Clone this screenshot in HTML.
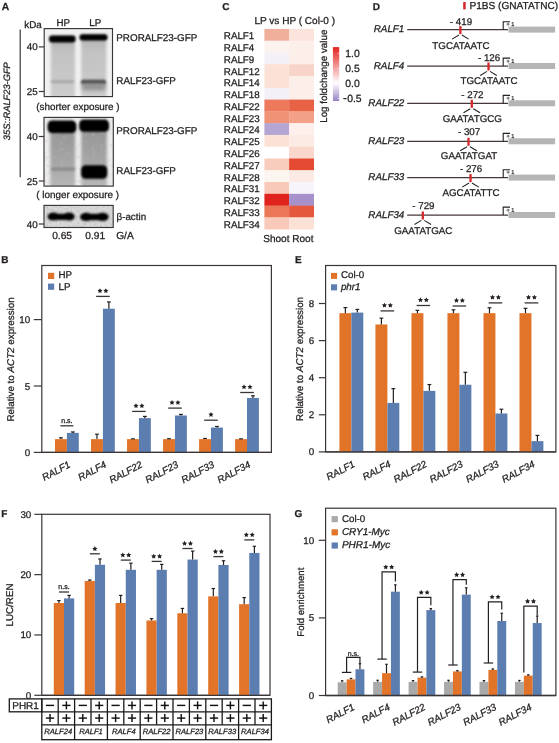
<!DOCTYPE html>
<html><head><meta charset="utf-8"><title>Figure</title>
<style>
html,body{margin:0;padding:0;background:#ffffff;width:559px;height:743px;overflow:hidden}
svg{display:block;will-change:transform}
text{font-family:"Liberation Sans",sans-serif;stroke:#231f20;stroke-width:0.28px;text-rendering:geometricPrecision}
</style></head><body>
<svg width="559" height="743" viewBox="0 0 559 743">
<rect x="0" y="0" width="559" height="743" fill="#ffffff"/>
<text transform="translate(1.80,10.20) scale(1,1.0)" font-size="10.3" font-weight="bold" fill="#231f20">A</text>
<text transform="translate(24.30,28.00) scale(1,1.0)" font-size="9.8" fill="#231f20">kDa</text>
<text transform="translate(56.40,26.30) scale(1,1.0)" font-size="9.8" fill="#231f20">HP</text>
<text transform="translate(89.30,26.30) scale(1,1.0)" font-size="9.8" fill="#231f20">LP</text>
<line x1="20.20" y1="29.60" x2="20.20" y2="177.30" stroke="#3b3535" stroke-width="1.2"/>
<text transform="translate(9.9,140.2) rotate(-90) scale(1,1.0)" font-size="9.3" font-style="italic" fill="#231f20">35S::RALF23-GFP</text>
<defs><filter id="b1" x="-50%" y="-50%" width="200%" height="200%"><feGaussianBlur stdDeviation="2.2"/></filter><filter id="b2" x="-50%" y="-50%" width="200%" height="200%"><feGaussianBlur stdDeviation="1.1"/></filter><filter id="b4" x="-50%" y="-50%" width="200%" height="200%"><feGaussianBlur stdDeviation="0.8"/></filter><filter id="b3" x="-50%" y="-50%" width="200%" height="200%"><feGaussianBlur stdDeviation="3"/></filter><filter id="noise" x="0" y="0" width="100%" height="100%"><feTurbulence type="fractalNoise" baseFrequency="0.55" numOctaves="2" seed="3"/><feColorMatrix type="matrix" values="0 0 0 0 0.3  0 0 0 0 0.3  0 0 0 0 0.3  2.2 0 0 0 -0.95"/></filter><clipPath id="c1"><rect x="44.2" y="28.6" width="68.3" height="68"/></clipPath><clipPath id="c2"><rect x="44" y="117.4" width="69.3" height="68.7"/></clipPath><clipPath id="c3"><rect x="44" y="205.4" width="69.2" height="22.1"/></clipPath><linearGradient id="lane1" x1="0" y1="0" x2="0" y2="1"><stop offset="0" stop-color="#b0b0b0"/><stop offset="0.25" stop-color="#c2c2c2"/><stop offset="0.7" stop-color="#c8c8c8"/><stop offset="1" stop-color="#cccccc"/></linearGradient><linearGradient id="lane2" x1="0" y1="0" x2="0" y2="1"><stop offset="0" stop-color="#858585"/><stop offset="0.2" stop-color="#999999"/><stop offset="0.6" stop-color="#a6a6a6"/><stop offset="1" stop-color="#b8b8b8"/></linearGradient><filter id="b5" x="-50%" y="-50%" width="200%" height="200%"><feGaussianBlur stdDeviation="1.6"/></filter><filter id="noise2" x="0" y="0" width="100%" height="100%"><feTurbulence type="fractalNoise" baseFrequency="0.25" numOctaves="2" seed="7"/><feColorMatrix type="matrix" values="0 0 0 0 0.5  0 0 0 0 0.5  0 0 0 0 0.5  0 0 0 -2.2 1.05"/></filter></defs>
<g clip-path="url(#c1)">
<rect x="44.20" y="28.60" width="68.30" height="68.00" fill="#f1f1f1"/>
<rect x="50.80" y="36.00" width="24.20" height="64.00" fill="url(#lane1)" filter="url(#b5)"/>
<rect x="81.20" y="35.00" width="25.20" height="65.00" fill="url(#lane1)" filter="url(#b5)"/>
<rect x="49" y="35.6" width="26.5" height="6.8" rx="3.2" fill="#000" filter="url(#b2)"/>
<rect x="79.5" y="34.2" width="28" height="6.4" rx="3" fill="#000" filter="url(#b2)"/>
<rect x="81" y="79.8" width="25" height="4.6" rx="2" fill="#4a4a4a" filter="url(#b2)"/>
<rect x="82" y="83.5" width="23.5" height="6.5" rx="2" fill="#8c8c8c" filter="url(#b1)"/>
<rect x="51" y="80.2" width="23" height="2.8" rx="1.3" fill="#a6a6a6" filter="url(#b2)"/>
</g>
<rect x="44.20" y="28.60" width="68.30" height="68.00" fill="none" stroke="#3b3535" stroke-width="1.15"/>
<g clip-path="url(#c2)">
<rect x="44.00" y="117.40" width="69.30" height="68.70" fill="#ececec"/>
<rect x="50.30" y="123.00" width="24.80" height="66.00" fill="url(#lane2)" filter="url(#b5)"/>
<rect x="81.30" y="122.00" width="25.60" height="67.00" fill="url(#lane2)" filter="url(#b5)"/>
<rect x="44.00" y="117.40" width="69.30" height="68.70" fill="#000" filter="url(#noise2)" opacity="0.5"/>
<rect x="47.6" y="120.6" width="28.6" height="12.4" rx="4.5" fill="#000" filter="url(#b2)"/>
<rect x="79.2" y="119.6" width="29.8" height="12.2" rx="4.5" fill="#000" filter="url(#b2)"/>
<rect x="81.2" y="165.2" width="26" height="13.6" rx="4.5" fill="#000" filter="url(#b2)"/>
<rect x="51" y="167.5" width="24" height="3.2" rx="1.5" fill="#8a8a8a" filter="url(#b2)"/>
</g>
<rect x="44.00" y="117.40" width="69.30" height="68.70" fill="none" stroke="#3b3535" stroke-width="1.15"/>
<g clip-path="url(#c3)">
<rect x="44.00" y="205.40" width="69.20" height="22.10" fill="#dadada"/>
<rect x="44.00" y="205.40" width="69.20" height="22.10" fill="#000" filter="url(#noise)" opacity="0.38"/>
<g filter="url(#b4)">
<rect x="48.2" y="213.7" width="25.8" height="6.2" rx="3" fill="#000"/>
<ellipse cx="53.4" cy="216.5" rx="5.8" ry="4.0" fill="#000"/>
<ellipse cx="68.9" cy="216.5" rx="5.8" ry="4.0" fill="#000"/>
<rect x="80.5" y="213.7" width="27.8" height="6.6" rx="3" fill="#000"/>
<ellipse cx="86.2" cy="216.8" rx="5.9" ry="4.1" fill="#000"/>
<ellipse cx="102.5" cy="216.8" rx="6" ry="4.1" fill="#000"/>
</g>
</g>
<rect x="44.00" y="205.40" width="69.20" height="22.10" fill="none" stroke="#3b3535" stroke-width="1.15"/>
<line x1="38.80" y1="46.90" x2="44.00" y2="46.90" stroke="#3b3535" stroke-width="1.2"/>
<text transform="translate(37.60,50.40) scale(1,1.0)" font-size="9.8" text-anchor="end" fill="#231f20">40</text>
<line x1="38.80" y1="91.50" x2="44.00" y2="91.50" stroke="#3b3535" stroke-width="1.2"/>
<text transform="translate(37.60,95.00) scale(1,1.0)" font-size="9.8" text-anchor="end" fill="#231f20">25</text>
<line x1="38.80" y1="136.50" x2="44.00" y2="136.50" stroke="#3b3535" stroke-width="1.2"/>
<text transform="translate(37.60,140.00) scale(1,1.0)" font-size="9.8" text-anchor="end" fill="#231f20">40</text>
<line x1="38.80" y1="181.00" x2="44.00" y2="181.00" stroke="#3b3535" stroke-width="1.2"/>
<text transform="translate(37.60,184.50) scale(1,1.0)" font-size="9.8" text-anchor="end" fill="#231f20">25</text>
<line x1="38.80" y1="224.00" x2="44.00" y2="224.00" stroke="#3b3535" stroke-width="1.2"/>
<text transform="translate(37.60,227.50) scale(1,1.0)" font-size="9.8" text-anchor="end" fill="#231f20">40</text>
<text transform="translate(116.30,40.70) scale(1,1.0)" font-size="9.85" fill="#231f20">PRORALF23-GFP</text>
<text transform="translate(116.30,84.30) scale(1,1.0)" font-size="9.85" fill="#231f20">RALF23-GFP</text>
<text transform="translate(116.30,133.60) scale(1,1.0)" font-size="9.85" fill="#231f20">PRORALF23-GFP</text>
<text transform="translate(116.30,174.00) scale(1,1.0)" font-size="9.85" fill="#231f20">RALF23-GFP</text>
<text transform="translate(36.20,110.40) scale(1,1.0)" font-size="9.9" fill="#231f20">(shorter exposure )</text>
<text transform="translate(36.20,198.20) scale(1,1.0)" font-size="9.9" fill="#231f20">( longer exposure )</text>
<text transform="translate(116.50,219.90) scale(1,1.0)" font-size="9.8" fill="#231f20">β-actin</text>
<text transform="translate(52.20,239.40) scale(1,1.0)" font-size="10.2" fill="#231f20">0.65</text>
<text transform="translate(85.30,239.40) scale(1,1.0)" font-size="10.2" fill="#231f20">0.91</text>
<text transform="translate(116.20,239.40) scale(1,1.0)" font-size="10.2" fill="#231f20">G/A</text>
<text transform="translate(222.20,10.20) scale(1,1.0)" font-size="10" font-weight="bold" fill="#231f20">C</text>
<text transform="translate(254.40,23.80) scale(1,1.0)" font-size="10.05" fill="#231f20">LP vs HP ( Col-0 )</text>
<rect x="264.40" y="28.90" width="24.70" height="12.08" fill="rgb(240,175,155)"/>
<rect x="289.10" y="28.90" width="24.90" height="12.08" fill="rgb(252,228,220)"/>
<text transform="translate(223.80,39.19) scale(1,1.0)" font-size="9.8" fill="#231f20">RALF1</text>
<rect x="264.40" y="40.68" width="24.70" height="12.08" fill="rgb(253,243,238)"/>
<rect x="289.10" y="40.68" width="24.90" height="12.08" fill="rgb(252,238,232)"/>
<text transform="translate(223.80,50.97) scale(1,1.0)" font-size="9.8" fill="#231f20">RALF4</text>
<rect x="264.40" y="52.46" width="24.70" height="12.08" fill="rgb(243,240,248)"/>
<rect x="289.10" y="52.46" width="24.90" height="12.08" fill="rgb(252,238,232)"/>
<text transform="translate(223.80,62.75) scale(1,1.0)" font-size="9.8" fill="#231f20">RALF9</text>
<rect x="264.40" y="64.24" width="24.70" height="12.08" fill="rgb(252,225,215)"/>
<rect x="289.10" y="64.24" width="24.90" height="12.08" fill="rgb(248,212,200)"/>
<text transform="translate(223.80,74.53) scale(1,1.0)" font-size="9.8" fill="#231f20">RALF12</text>
<rect x="264.40" y="76.02" width="24.70" height="12.08" fill="rgb(252,225,215)"/>
<rect x="289.10" y="76.02" width="24.90" height="12.08" fill="rgb(252,238,232)"/>
<text transform="translate(223.80,86.31) scale(1,1.0)" font-size="9.8" fill="#231f20">RALF14</text>
<rect x="264.40" y="87.80" width="24.70" height="12.08" fill="rgb(243,240,248)"/>
<rect x="289.10" y="87.80" width="24.90" height="12.08" fill="rgb(252,238,232)"/>
<text transform="translate(223.80,98.09) scale(1,1.0)" font-size="9.8" fill="#231f20">RALF18</text>
<rect x="264.40" y="99.58" width="24.70" height="12.08" fill="rgb(237,122,92)"/>
<rect x="289.10" y="99.58" width="24.90" height="12.08" fill="rgb(232,98,70)"/>
<text transform="translate(223.80,109.87) scale(1,1.0)" font-size="9.8" fill="#231f20">RALF22</text>
<rect x="264.40" y="111.36" width="24.70" height="12.08" fill="rgb(240,146,118)"/>
<rect x="289.10" y="111.36" width="24.90" height="12.08" fill="rgb(242,160,136)"/>
<text transform="translate(223.80,121.65) scale(1,1.0)" font-size="9.8" fill="#231f20">RALF23</text>
<rect x="264.40" y="123.14" width="24.70" height="12.08" fill="rgb(180,165,210)"/>
<rect x="289.10" y="123.14" width="24.90" height="12.08" fill="rgb(253,240,236)"/>
<text transform="translate(223.80,133.43) scale(1,1.0)" font-size="9.8" fill="#231f20">RALF24</text>
<rect x="264.40" y="134.92" width="24.70" height="12.08" fill="rgb(252,225,215)"/>
<rect x="289.10" y="134.92" width="24.90" height="12.08" fill="rgb(252,235,228)"/>
<text transform="translate(223.80,145.21) scale(1,1.0)" font-size="9.8" fill="#231f20">RALF25</text>
<rect x="264.40" y="146.70" width="24.70" height="12.08" fill="rgb(255,255,255)"/>
<rect x="289.10" y="146.70" width="24.90" height="12.08" fill="rgb(250,215,205)"/>
<text transform="translate(223.80,156.99) scale(1,1.0)" font-size="9.8" fill="#231f20">RALF26</text>
<rect x="264.40" y="158.48" width="24.70" height="12.08" fill="rgb(248,205,190)"/>
<rect x="289.10" y="158.48" width="24.90" height="12.08" fill="rgb(228,75,50)"/>
<text transform="translate(223.80,168.77) scale(1,1.0)" font-size="9.8" fill="#231f20">RALF27</text>
<rect x="264.40" y="170.26" width="24.70" height="12.08" fill="rgb(253,245,240)"/>
<rect x="289.10" y="170.26" width="24.90" height="12.08" fill="rgb(252,235,228)"/>
<text transform="translate(223.80,180.55) scale(1,1.0)" font-size="9.8" fill="#231f20">RALF28</text>
<rect x="264.40" y="182.04" width="24.70" height="12.08" fill="rgb(248,200,185)"/>
<rect x="289.10" y="182.04" width="24.90" height="12.08" fill="rgb(247,245,251)"/>
<text transform="translate(223.80,192.33) scale(1,1.0)" font-size="9.8" fill="#231f20">RALF31</text>
<rect x="264.40" y="193.82" width="24.70" height="12.08" fill="rgb(225,35,30)"/>
<rect x="289.10" y="193.82" width="24.90" height="12.08" fill="rgb(166,145,202)"/>
<text transform="translate(223.80,204.11) scale(1,1.0)" font-size="9.8" fill="#231f20">RALF32</text>
<rect x="264.40" y="205.60" width="24.70" height="12.08" fill="rgb(236,118,88)"/>
<rect x="289.10" y="205.60" width="24.90" height="12.08" fill="rgb(228,88,62)"/>
<text transform="translate(223.80,215.89) scale(1,1.0)" font-size="9.8" fill="#231f20">RALF33</text>
<rect x="264.40" y="217.38" width="24.70" height="12.08" fill="rgb(248,200,185)"/>
<rect x="289.10" y="217.38" width="24.90" height="12.08" fill="rgb(252,225,215)"/>
<text transform="translate(223.80,227.67) scale(1,1.0)" font-size="9.8" fill="#231f20">RALF34</text>
<text transform="translate(263.20,242.40) scale(1,1.0)" font-size="10.05" fill="#231f20">Shoot Root</text>
<text transform="translate(326.5,122.8) rotate(-90) scale(1,1.0)" font-size="9.8" fill="#231f20">Log foldchange value</text>
<defs><linearGradient id="cb" x1="0" y1="0" x2="0" y2="1"><stop offset="0" stop-color="#e2231f"/><stop offset="0.667" stop-color="#ffffff"/><stop offset="1" stop-color="#9784c4"/></linearGradient></defs>
<rect x="332.90" y="47.10" width="6.30" height="53.90" fill="url(#cb)"/>
<line x1="337.50" y1="53.30" x2="339.20" y2="53.30" stroke="#ffffff" stroke-width="0.6"/>
<text transform="translate(345.30,57.00) scale(1,1.0)" font-size="10.4" fill="#231f20">1.0</text>
<line x1="337.50" y1="68.40" x2="339.20" y2="68.40" stroke="#ffffff" stroke-width="0.6"/>
<text transform="translate(345.30,72.10) scale(1,1.0)" font-size="10.4" fill="#231f20">0.5</text>
<line x1="337.50" y1="83.40" x2="339.20" y2="83.40" stroke="#ffffff" stroke-width="0.6"/>
<text transform="translate(345.30,87.10) scale(1,1.0)" font-size="10.4" fill="#231f20">0.0</text>
<line x1="337.50" y1="98.50" x2="339.20" y2="98.50" stroke="#ffffff" stroke-width="0.6"/>
<text transform="translate(347.20,102.20) scale(1,1.0)" font-size="10.4" fill="#231f20">0.5</text>
<line x1="343.30" y1="98.60" x2="346.50" y2="98.60" stroke="#231f20" stroke-width="1.2"/>
<text transform="translate(372.80,10.20) scale(1,1.0)" font-size="10" font-weight="bold" fill="#231f20">D</text>
<rect x="463.20" y="2.00" width="2.50" height="7.40" fill="#d7262b"/>
<text transform="translate(469.50,9.20) scale(1,1.0)" font-size="10.1" fill="#231f20">P1BS (GNATATNC)</text>
<text transform="translate(404.30,32.40) scale(1,1.0)" font-size="9.8" text-anchor="end" font-style="italic" fill="#231f20">RALF1</text>
<line x1="407.20" y1="29.70" x2="508.00" y2="29.70" stroke="#463838" stroke-width="1.3"/>
<path d="M503.2 29.70 V21.70 H510" fill="none" stroke="#231f20" stroke-width="1.1"/>
<text transform="translate(506.60,26.10) scale(1,1.0)" font-size="5.5" fill="#666">+</text>
<text transform="translate(511.20,26.10) scale(1,1.0)" font-size="5.5" fill="#666">1</text>
<rect x="508.50" y="26.60" width="46.60" height="6.00" fill="#b5b5b5"/>
<rect x="459.25" y="26.10" width="2.30" height="8.00" fill="#d7262b"/>
<path d="M458.90 35.00 L452.10 39.10 M461.90 35.00 L468.70 39.10" fill="none" stroke="#231f20" stroke-width="1.05"/>
<text transform="translate(461.00,24.50) scale(1,1.0)" font-size="9.8" text-anchor="middle" fill="#231f20">- 419</text>
<text transform="translate(460.90,49.10) scale(1,1.0)" font-size="9.8" text-anchor="middle" fill="#231f20">TGCATAATC</text>
<text transform="translate(404.30,68.80) scale(1,1.0)" font-size="9.8" text-anchor="end" font-style="italic" fill="#231f20">RALF4</text>
<line x1="407.20" y1="66.10" x2="508.00" y2="66.10" stroke="#463838" stroke-width="1.3"/>
<path d="M503.2 66.10 V58.10 H510" fill="none" stroke="#231f20" stroke-width="1.1"/>
<text transform="translate(506.60,62.50) scale(1,1.0)" font-size="5.5" fill="#666">+</text>
<text transform="translate(511.20,62.50) scale(1,1.0)" font-size="5.5" fill="#666">1</text>
<rect x="508.50" y="63.00" width="46.60" height="6.00" fill="#b5b5b5"/>
<rect x="487.35" y="62.50" width="2.30" height="8.00" fill="#d7262b"/>
<path d="M487.00 71.40 L480.20 75.50 M490.00 71.40 L496.80 75.50" fill="none" stroke="#231f20" stroke-width="1.05"/>
<text transform="translate(489.10,60.60) scale(1,1.0)" font-size="9.8" text-anchor="middle" fill="#231f20">- 126</text>
<text transform="translate(489.00,83.70) scale(1,1.0)" font-size="9.8" text-anchor="middle" fill="#231f20">TGCATAATC</text>
<text transform="translate(404.30,106.10) scale(1,1.0)" font-size="9.8" text-anchor="end" font-style="italic" fill="#231f20">RALF22</text>
<line x1="407.20" y1="103.40" x2="508.00" y2="103.40" stroke="#463838" stroke-width="1.3"/>
<path d="M503.2 103.40 V95.40 H510" fill="none" stroke="#231f20" stroke-width="1.1"/>
<text transform="translate(506.60,99.80) scale(1,1.0)" font-size="5.5" fill="#666">+</text>
<text transform="translate(511.20,99.80) scale(1,1.0)" font-size="5.5" fill="#666">1</text>
<rect x="508.50" y="100.30" width="46.60" height="6.00" fill="#b5b5b5"/>
<rect x="470.65" y="99.80" width="2.30" height="8.00" fill="#d7262b"/>
<path d="M470.30 108.70 L463.50 112.80 M473.30 108.70 L480.10 112.80" fill="none" stroke="#231f20" stroke-width="1.05"/>
<text transform="translate(472.40,97.60) scale(1,1.0)" font-size="9.8" text-anchor="middle" fill="#231f20">- 272</text>
<text transform="translate(472.30,121.60) scale(1,1.0)" font-size="9.8" text-anchor="middle" fill="#231f20">GAATATGCG</text>
<text transform="translate(404.30,144.10) scale(1,1.0)" font-size="9.8" text-anchor="end" font-style="italic" fill="#231f20">RALF23</text>
<line x1="407.20" y1="141.40" x2="508.00" y2="141.40" stroke="#463838" stroke-width="1.3"/>
<path d="M503.2 141.40 V133.40 H510" fill="none" stroke="#231f20" stroke-width="1.1"/>
<text transform="translate(506.60,137.80) scale(1,1.0)" font-size="5.5" fill="#666">+</text>
<text transform="translate(511.20,137.80) scale(1,1.0)" font-size="5.5" fill="#666">1</text>
<rect x="508.50" y="138.30" width="46.60" height="6.00" fill="#b5b5b5"/>
<rect x="467.35" y="137.80" width="2.30" height="8.00" fill="#d7262b"/>
<path d="M467.00 146.70 L460.20 150.80 M470.00 146.70 L476.80 150.80" fill="none" stroke="#231f20" stroke-width="1.05"/>
<text transform="translate(469.10,134.60) scale(1,1.0)" font-size="9.8" text-anchor="middle" fill="#231f20">- 307</text>
<text transform="translate(469.00,159.00) scale(1,1.0)" font-size="9.8" text-anchor="middle" fill="#231f20">GAATATGAT</text>
<text transform="translate(404.30,180.40) scale(1,1.0)" font-size="9.8" text-anchor="end" font-style="italic" fill="#231f20">RALF33</text>
<line x1="407.20" y1="177.70" x2="508.00" y2="177.70" stroke="#463838" stroke-width="1.3"/>
<path d="M503.2 177.70 V169.70 H510" fill="none" stroke="#231f20" stroke-width="1.1"/>
<text transform="translate(506.60,174.10) scale(1,1.0)" font-size="5.5" fill="#666">+</text>
<text transform="translate(511.20,174.10) scale(1,1.0)" font-size="5.5" fill="#666">1</text>
<rect x="508.50" y="174.60" width="46.60" height="6.00" fill="#b5b5b5"/>
<rect x="469.35" y="174.10" width="2.30" height="8.00" fill="#d7262b"/>
<path d="M469.00 183.00 L462.20 187.10 M472.00 183.00 L478.80 187.10" fill="none" stroke="#231f20" stroke-width="1.05"/>
<text transform="translate(471.10,171.60) scale(1,1.0)" font-size="9.8" text-anchor="middle" fill="#231f20">- 276</text>
<text transform="translate(471.00,195.60) scale(1,1.0)" font-size="9.8" text-anchor="middle" fill="#231f20">AGCATATTC</text>
<text transform="translate(404.30,217.80) scale(1,1.0)" font-size="9.8" text-anchor="end" font-style="italic" fill="#231f20">RALF34</text>
<line x1="407.20" y1="215.10" x2="508.00" y2="215.10" stroke="#463838" stroke-width="1.3"/>
<path d="M503.2 215.10 V207.10 H510" fill="none" stroke="#231f20" stroke-width="1.1"/>
<text transform="translate(506.60,211.50) scale(1,1.0)" font-size="5.5" fill="#666">+</text>
<text transform="translate(511.20,211.50) scale(1,1.0)" font-size="5.5" fill="#666">1</text>
<rect x="508.50" y="212.00" width="46.60" height="6.00" fill="#b5b5b5"/>
<rect x="421.65" y="211.50" width="2.30" height="8.00" fill="#d7262b"/>
<path d="M421.30 220.40 L414.50 224.50 M424.30 220.40 L431.10 224.50" fill="none" stroke="#231f20" stroke-width="1.05"/>
<text transform="translate(423.40,209.10) scale(1,1.0)" font-size="9.8" text-anchor="middle" fill="#231f20">- 729</text>
<text transform="translate(423.30,233.70) scale(1,1.0)" font-size="9.8" text-anchor="middle" fill="#231f20">GAATATGAC</text>
<text transform="translate(1.30,263.00) scale(1,1.0)" font-size="10" font-weight="bold" fill="#231f20">B</text>
<rect x="41.80" y="265.50" width="229.60" height="186.90" fill="none" stroke="#3b3535" stroke-width="1.2"/>
<line x1="33.80" y1="452.40" x2="41.80" y2="452.40" stroke="#3b3535" stroke-width="1.2"/>
<text transform="translate(30.20,455.90) scale(1,1.0)" font-size="9.8" text-anchor="end" fill="#231f20">0</text>
<line x1="33.80" y1="386.00" x2="41.80" y2="386.00" stroke="#3b3535" stroke-width="1.2"/>
<text transform="translate(30.20,389.50) scale(1,1.0)" font-size="9.8" text-anchor="end" fill="#231f20">5</text>
<line x1="33.80" y1="319.60" x2="41.80" y2="319.60" stroke="#3b3535" stroke-width="1.2"/>
<text transform="translate(30.20,323.10) scale(1,1.0)" font-size="9.8" text-anchor="end" fill="#231f20">10</text>
<text transform="translate(14.1,421.5) rotate(-90) scale(1,1.0)" font-size="9.8" fill="#231f20">Relative to <tspan font-style="italic">ACT2</tspan> expression</text>
<rect x="48.00" y="272.80" width="6.20" height="6.20" fill="#e2742a"/>
<text transform="translate(58.50,278.40) scale(1,1.0)" font-size="9.8" fill="#231f20">HP</text>
<rect x="48.00" y="283.60" width="6.20" height="6.20" fill="#5b7db0"/>
<text transform="translate(58.50,289.70) scale(1,1.0)" font-size="9.8" fill="#231f20">LP</text>
<rect x="55.00" y="439.12" width="11.90" height="13.28" fill="#e2742a"/>
<rect x="66.90" y="432.88" width="11.90" height="19.52" fill="#5b7db0"/>
<line x1="60.95" y1="437.79" x2="60.95" y2="439.12" stroke="#231f20" stroke-width="1.2"/>
<line x1="59.05" y1="437.79" x2="62.85" y2="437.79" stroke="#231f20" stroke-width="1.2"/>
<line x1="72.85" y1="431.95" x2="72.85" y2="432.88" stroke="#231f20" stroke-width="1.2"/>
<line x1="70.95" y1="431.95" x2="74.75" y2="431.95" stroke="#231f20" stroke-width="1.2"/>
<text transform="translate(71.10,466.70) rotate(-28) scale(1,1.0)" font-size="9.8" font-style="italic" text-anchor="end" fill="#231f20">RALF1</text>
<rect x="91.02" y="439.12" width="11.90" height="13.28" fill="#e2742a"/>
<rect x="102.92" y="308.71" width="11.90" height="143.69" fill="#5b7db0"/>
<line x1="96.97" y1="434.21" x2="96.97" y2="439.12" stroke="#231f20" stroke-width="1.2"/>
<line x1="95.07" y1="434.21" x2="98.87" y2="434.21" stroke="#231f20" stroke-width="1.2"/>
<line x1="108.87" y1="301.94" x2="108.87" y2="308.71" stroke="#231f20" stroke-width="1.2"/>
<line x1="106.97" y1="301.94" x2="110.77" y2="301.94" stroke="#231f20" stroke-width="1.2"/>
<text transform="translate(107.12,466.70) rotate(-28) scale(1,1.0)" font-size="9.8" font-style="italic" text-anchor="end" fill="#231f20">RALF4</text>
<rect x="127.04" y="439.12" width="11.90" height="13.28" fill="#e2742a"/>
<rect x="138.94" y="418.14" width="11.90" height="34.26" fill="#5b7db0"/>
<line x1="131.09" y1="438.85" x2="134.89" y2="438.85" stroke="#231f20" stroke-width="1.2"/>
<line x1="144.89" y1="416.41" x2="144.89" y2="418.14" stroke="#231f20" stroke-width="1.2"/>
<line x1="142.99" y1="416.41" x2="146.79" y2="416.41" stroke="#231f20" stroke-width="1.2"/>
<text transform="translate(143.14,466.70) rotate(-28) scale(1,1.0)" font-size="9.8" font-style="italic" text-anchor="end" fill="#231f20">RALF22</text>
<rect x="163.06" y="439.12" width="11.90" height="13.28" fill="#e2742a"/>
<rect x="174.96" y="415.48" width="11.90" height="36.92" fill="#5b7db0"/>
<line x1="169.01" y1="438.72" x2="169.01" y2="439.12" stroke="#231f20" stroke-width="1.2"/>
<line x1="167.11" y1="438.72" x2="170.91" y2="438.72" stroke="#231f20" stroke-width="1.2"/>
<line x1="180.91" y1="414.42" x2="180.91" y2="415.48" stroke="#231f20" stroke-width="1.2"/>
<line x1="179.01" y1="414.42" x2="182.81" y2="414.42" stroke="#231f20" stroke-width="1.2"/>
<text transform="translate(179.16,466.70) rotate(-28) scale(1,1.0)" font-size="9.8" font-style="italic" text-anchor="end" fill="#231f20">RALF23</text>
<rect x="199.08" y="439.12" width="11.90" height="13.28" fill="#e2742a"/>
<rect x="210.98" y="427.57" width="11.90" height="24.83" fill="#5b7db0"/>
<line x1="205.03" y1="438.46" x2="205.03" y2="439.12" stroke="#231f20" stroke-width="1.2"/>
<line x1="203.13" y1="438.46" x2="206.93" y2="438.46" stroke="#231f20" stroke-width="1.2"/>
<line x1="216.93" y1="426.50" x2="216.93" y2="427.57" stroke="#231f20" stroke-width="1.2"/>
<line x1="215.03" y1="426.50" x2="218.83" y2="426.50" stroke="#231f20" stroke-width="1.2"/>
<text transform="translate(215.18,466.70) rotate(-28) scale(1,1.0)" font-size="9.8" font-style="italic" text-anchor="end" fill="#231f20">RALF33</text>
<rect x="235.10" y="439.12" width="11.90" height="13.28" fill="#e2742a"/>
<rect x="247.00" y="397.95" width="11.90" height="54.45" fill="#5b7db0"/>
<line x1="239.15" y1="438.85" x2="242.95" y2="438.85" stroke="#231f20" stroke-width="1.2"/>
<line x1="252.95" y1="395.83" x2="252.95" y2="397.95" stroke="#231f20" stroke-width="1.2"/>
<line x1="251.05" y1="395.83" x2="254.85" y2="395.83" stroke="#231f20" stroke-width="1.2"/>
<text transform="translate(251.20,466.70) rotate(-28) scale(1,1.0)" font-size="9.8" font-style="italic" text-anchor="end" fill="#231f20">RALF34</text>
<line x1="41.80" y1="452.40" x2="271.40" y2="452.40" stroke="#3b3535" stroke-width="1.3"/>
<line x1="60.40" y1="425.80" x2="73.40" y2="425.80" stroke="#3b3535" stroke-width="1.3"/>
<text transform="translate(66.90,423.10) scale(1,1.0)" font-size="7" text-anchor="middle" fill="#231f20">n.s.</text>
<line x1="96.12" y1="296.40" x2="109.72" y2="296.40" stroke="#3b3535" stroke-width="1.3"/>
<polygon points="99.97,288.20 100.76,289.81 102.54,290.07 101.25,291.32 101.56,293.08 99.97,292.25 98.38,293.08 98.69,291.32 97.40,290.07 99.18,289.81" fill="#231f20"/>
<polygon points="105.87,288.20 106.66,289.81 108.44,290.07 107.15,291.32 107.46,293.08 105.87,292.25 104.28,293.08 104.59,291.32 103.30,290.07 105.08,289.81" fill="#231f20"/>
<line x1="132.14" y1="411.40" x2="145.74" y2="411.40" stroke="#3b3535" stroke-width="1.3"/>
<polygon points="135.99,403.20 136.78,404.81 138.56,405.07 137.27,406.32 137.58,408.08 135.99,407.25 134.40,408.08 134.71,406.32 133.42,405.07 135.20,404.81" fill="#231f20"/>
<polygon points="141.89,403.20 142.68,404.81 144.46,405.07 143.17,406.32 143.48,408.08 141.89,407.25 140.30,408.08 140.61,406.32 139.32,405.07 141.10,404.81" fill="#231f20"/>
<line x1="168.16" y1="408.10" x2="181.76" y2="408.10" stroke="#3b3535" stroke-width="1.3"/>
<polygon points="172.01,399.90 172.80,401.51 174.58,401.77 173.29,403.02 173.60,404.78 172.01,403.95 170.42,404.78 170.73,403.02 169.44,401.77 171.22,401.51" fill="#231f20"/>
<polygon points="177.91,399.90 178.70,401.51 180.48,401.77 179.19,403.02 179.50,404.78 177.91,403.95 176.32,404.78 176.63,403.02 175.34,401.77 177.12,401.51" fill="#231f20"/>
<line x1="204.18" y1="420.20" x2="217.78" y2="420.20" stroke="#3b3535" stroke-width="1.3"/>
<polygon points="210.98,412.00 211.77,413.61 213.55,413.87 212.26,415.12 212.57,416.88 210.98,416.05 209.39,416.88 209.70,415.12 208.41,413.87 210.19,413.61" fill="#231f20"/>
<line x1="240.20" y1="392.50" x2="253.80" y2="392.50" stroke="#3b3535" stroke-width="1.3"/>
<polygon points="244.05,384.30 244.84,385.91 246.62,386.17 245.33,387.42 245.64,389.18 244.05,388.35 242.46,389.18 242.77,387.42 241.48,386.17 243.26,385.91" fill="#231f20"/>
<polygon points="249.95,384.30 250.74,385.91 252.52,386.17 251.23,387.42 251.54,389.18 249.95,388.35 248.36,389.18 248.67,387.42 247.38,386.17 249.16,385.91" fill="#231f20"/>
<text transform="translate(295.00,263.00) scale(1,1.0)" font-size="10" font-weight="bold" fill="#231f20">E</text>
<rect x="325.60" y="265.50" width="230.30" height="186.40" fill="none" stroke="#3b3535" stroke-width="1.2"/>
<line x1="318.80" y1="451.90" x2="325.60" y2="451.90" stroke="#3b3535" stroke-width="1.2"/>
<text transform="translate(314.20,455.40) scale(1,1.0)" font-size="9.8" text-anchor="end" fill="#231f20">0</text>
<line x1="318.80" y1="414.80" x2="325.60" y2="414.80" stroke="#3b3535" stroke-width="1.2"/>
<text transform="translate(314.20,418.30) scale(1,1.0)" font-size="9.8" text-anchor="end" fill="#231f20">2</text>
<line x1="318.80" y1="377.70" x2="325.60" y2="377.70" stroke="#3b3535" stroke-width="1.2"/>
<text transform="translate(314.20,381.20) scale(1,1.0)" font-size="9.8" text-anchor="end" fill="#231f20">4</text>
<line x1="318.80" y1="340.60" x2="325.60" y2="340.60" stroke="#3b3535" stroke-width="1.2"/>
<text transform="translate(314.20,344.10) scale(1,1.0)" font-size="9.8" text-anchor="end" fill="#231f20">6</text>
<line x1="318.80" y1="303.50" x2="325.60" y2="303.50" stroke="#3b3535" stroke-width="1.2"/>
<text transform="translate(314.20,307.00) scale(1,1.0)" font-size="9.8" text-anchor="end" fill="#231f20">8</text>
<text transform="translate(302.7,421.1) rotate(-90) scale(1,1.0)" font-size="9.8" fill="#231f20">Relative to <tspan font-style="italic">ACT2</tspan> expression</text>
<rect x="331.00" y="272.90" width="6.10" height="6.00" fill="#e2742a"/>
<text transform="translate(340.90,278.20) scale(1,1.0)" font-size="9.8" fill="#231f20">Col-0</text>
<rect x="331.00" y="284.30" width="6.10" height="6.10" fill="#5b7db0"/>
<text transform="translate(340.90,290.40) scale(1,1.0)" font-size="9.8" font-style="italic" fill="#231f20">phr1</text>
<rect x="339.40" y="313.15" width="11.95" height="138.75" fill="#e2742a"/>
<rect x="351.35" y="312.59" width="11.95" height="139.31" fill="#5b7db0"/>
<line x1="345.38" y1="307.58" x2="345.38" y2="313.15" stroke="#231f20" stroke-width="1.2"/>
<line x1="343.48" y1="307.58" x2="347.27" y2="307.58" stroke="#231f20" stroke-width="1.2"/>
<line x1="357.32" y1="309.44" x2="357.32" y2="312.59" stroke="#231f20" stroke-width="1.2"/>
<line x1="355.43" y1="309.44" x2="359.22" y2="309.44" stroke="#231f20" stroke-width="1.2"/>
<text transform="translate(355.55,466.20) rotate(-28) scale(1,1.0)" font-size="9.8" font-style="italic" text-anchor="end" fill="#231f20">RALF1</text>
<rect x="375.42" y="324.46" width="11.95" height="127.44" fill="#e2742a"/>
<rect x="387.37" y="402.93" width="11.95" height="48.97" fill="#5b7db0"/>
<line x1="381.39" y1="318.15" x2="381.39" y2="324.46" stroke="#231f20" stroke-width="1.2"/>
<line x1="379.50" y1="318.15" x2="383.29" y2="318.15" stroke="#231f20" stroke-width="1.2"/>
<line x1="393.34" y1="388.64" x2="393.34" y2="402.93" stroke="#231f20" stroke-width="1.2"/>
<line x1="391.44" y1="388.64" x2="395.24" y2="388.64" stroke="#231f20" stroke-width="1.2"/>
<text transform="translate(391.57,466.20) rotate(-28) scale(1,1.0)" font-size="9.8" font-style="italic" text-anchor="end" fill="#231f20">RALF4</text>
<rect x="411.44" y="313.15" width="11.95" height="138.75" fill="#e2742a"/>
<rect x="423.39" y="390.87" width="11.95" height="61.03" fill="#5b7db0"/>
<line x1="417.42" y1="310.36" x2="417.42" y2="313.15" stroke="#231f20" stroke-width="1.2"/>
<line x1="415.52" y1="310.36" x2="419.31" y2="310.36" stroke="#231f20" stroke-width="1.2"/>
<line x1="429.37" y1="384.56" x2="429.37" y2="390.87" stroke="#231f20" stroke-width="1.2"/>
<line x1="427.47" y1="384.56" x2="431.26" y2="384.56" stroke="#231f20" stroke-width="1.2"/>
<text transform="translate(427.59,466.20) rotate(-28) scale(1,1.0)" font-size="9.8" font-style="italic" text-anchor="end" fill="#231f20">RALF22</text>
<rect x="447.46" y="313.15" width="11.95" height="138.75" fill="#e2742a"/>
<rect x="459.41" y="384.75" width="11.95" height="67.15" fill="#5b7db0"/>
<line x1="453.44" y1="309.81" x2="453.44" y2="313.15" stroke="#231f20" stroke-width="1.2"/>
<line x1="451.54" y1="309.81" x2="455.33" y2="309.81" stroke="#231f20" stroke-width="1.2"/>
<line x1="465.38" y1="372.32" x2="465.38" y2="384.75" stroke="#231f20" stroke-width="1.2"/>
<line x1="463.49" y1="372.32" x2="467.28" y2="372.32" stroke="#231f20" stroke-width="1.2"/>
<text transform="translate(463.61,466.20) rotate(-28) scale(1,1.0)" font-size="9.8" font-style="italic" text-anchor="end" fill="#231f20">RALF23</text>
<rect x="483.48" y="313.15" width="11.95" height="138.75" fill="#e2742a"/>
<rect x="495.43" y="413.50" width="11.95" height="38.40" fill="#5b7db0"/>
<line x1="489.46" y1="307.77" x2="489.46" y2="313.15" stroke="#231f20" stroke-width="1.2"/>
<line x1="487.56" y1="307.77" x2="491.36" y2="307.77" stroke="#231f20" stroke-width="1.2"/>
<line x1="501.41" y1="409.23" x2="501.41" y2="413.50" stroke="#231f20" stroke-width="1.2"/>
<line x1="499.51" y1="409.23" x2="503.31" y2="409.23" stroke="#231f20" stroke-width="1.2"/>
<text transform="translate(499.63,466.20) rotate(-28) scale(1,1.0)" font-size="9.8" font-style="italic" text-anchor="end" fill="#231f20">RALF33</text>
<rect x="519.50" y="313.15" width="11.95" height="138.75" fill="#e2742a"/>
<rect x="531.45" y="441.14" width="11.95" height="10.76" fill="#5b7db0"/>
<line x1="525.48" y1="308.32" x2="525.48" y2="313.15" stroke="#231f20" stroke-width="1.2"/>
<line x1="523.58" y1="308.32" x2="527.38" y2="308.32" stroke="#231f20" stroke-width="1.2"/>
<line x1="537.42" y1="435.39" x2="537.42" y2="441.14" stroke="#231f20" stroke-width="1.2"/>
<line x1="535.52" y1="435.39" x2="539.32" y2="435.39" stroke="#231f20" stroke-width="1.2"/>
<text transform="translate(535.65,466.20) rotate(-28) scale(1,1.0)" font-size="9.8" font-style="italic" text-anchor="end" fill="#231f20">RALF34</text>
<line x1="325.60" y1="451.90" x2="555.90" y2="451.90" stroke="#3b3535" stroke-width="1.3"/>
<line x1="380.57" y1="310.90" x2="394.17" y2="310.90" stroke="#3b3535" stroke-width="1.3"/>
<polygon points="384.42,302.70 385.21,304.31 386.99,304.57 385.70,305.82 386.01,307.58 384.42,306.75 382.83,307.58 383.14,305.82 381.85,304.57 383.63,304.31" fill="#231f20"/>
<polygon points="390.32,302.70 391.11,304.31 392.89,304.57 391.60,305.82 391.91,307.58 390.32,306.75 388.73,307.58 389.04,305.82 387.75,304.57 389.53,304.31" fill="#231f20"/>
<line x1="416.59" y1="305.50" x2="430.19" y2="305.50" stroke="#3b3535" stroke-width="1.3"/>
<polygon points="420.44,297.30 421.23,298.91 423.01,299.17 421.72,300.42 422.03,302.18 420.44,301.35 418.85,302.18 419.16,300.42 417.87,299.17 419.65,298.91" fill="#231f20"/>
<polygon points="426.34,297.30 427.13,298.91 428.91,299.17 427.62,300.42 427.93,302.18 426.34,301.35 424.75,302.18 425.06,300.42 423.77,299.17 425.55,298.91" fill="#231f20"/>
<line x1="452.61" y1="306.00" x2="466.21" y2="306.00" stroke="#3b3535" stroke-width="1.3"/>
<polygon points="456.46,297.80 457.25,299.41 459.03,299.67 457.74,300.92 458.05,302.68 456.46,301.85 454.87,302.68 455.18,300.92 453.89,299.67 455.67,299.41" fill="#231f20"/>
<polygon points="462.36,297.80 463.15,299.41 464.93,299.67 463.64,300.92 463.95,302.68 462.36,301.85 460.77,302.68 461.08,300.92 459.79,299.67 461.57,299.41" fill="#231f20"/>
<line x1="488.63" y1="302.90" x2="502.23" y2="302.90" stroke="#3b3535" stroke-width="1.3"/>
<polygon points="492.48,294.70 493.27,296.31 495.05,296.57 493.76,297.82 494.07,299.58 492.48,298.75 490.89,299.58 491.20,297.82 489.91,296.57 491.69,296.31" fill="#231f20"/>
<polygon points="498.38,294.70 499.17,296.31 500.95,296.57 499.66,297.82 499.97,299.58 498.38,298.75 496.79,299.58 497.10,297.82 495.81,296.57 497.59,296.31" fill="#231f20"/>
<line x1="524.65" y1="302.90" x2="538.25" y2="302.90" stroke="#3b3535" stroke-width="1.3"/>
<polygon points="528.50,294.70 529.29,296.31 531.07,296.57 529.78,297.82 530.09,299.58 528.50,298.75 526.91,299.58 527.22,297.82 525.93,296.57 527.71,296.31" fill="#231f20"/>
<polygon points="534.40,294.70 535.19,296.31 536.97,296.57 535.68,297.82 535.99,299.58 534.40,298.75 532.81,299.58 533.12,297.82 531.83,296.57 533.61,296.31" fill="#231f20"/>
<text transform="translate(1.30,517.30) scale(1,1.0)" font-size="10" font-weight="bold" fill="#231f20">F</text>
<rect x="41.80" y="514.30" width="228.20" height="181.00" fill="none" stroke="#3b3535" stroke-width="1.2"/>
<line x1="34.30" y1="695.30" x2="41.80" y2="695.30" stroke="#3b3535" stroke-width="1.2"/>
<text transform="translate(31.30,698.80) scale(1,1.0)" font-size="9.8" text-anchor="end" fill="#231f20">0</text>
<line x1="34.30" y1="634.97" x2="41.80" y2="634.97" stroke="#3b3535" stroke-width="1.2"/>
<text transform="translate(31.30,638.47) scale(1,1.0)" font-size="9.8" text-anchor="end" fill="#231f20">10</text>
<line x1="34.30" y1="574.64" x2="41.80" y2="574.64" stroke="#3b3535" stroke-width="1.2"/>
<text transform="translate(31.30,578.14) scale(1,1.0)" font-size="9.8" text-anchor="end" fill="#231f20">20</text>
<line x1="34.30" y1="514.31" x2="41.80" y2="514.31" stroke="#3b3535" stroke-width="1.2"/>
<text transform="translate(31.30,517.81) scale(1,1.0)" font-size="9.8" text-anchor="end" fill="#231f20">30</text>
<text transform="translate(12.5,626.5) rotate(-90) scale(1,1.0)" font-size="9.8" fill="#231f20">LUC/REN</text>
<rect x="53.80" y="603.00" width="10.20" height="92.30" fill="#e2742a"/>
<rect x="64.00" y="598.41" width="10.20" height="96.89" fill="#5b7db0"/>
<line x1="58.90" y1="600.58" x2="58.90" y2="603.00" stroke="#231f20" stroke-width="1.2"/>
<line x1="57.20" y1="600.58" x2="60.60" y2="600.58" stroke="#231f20" stroke-width="1.2"/>
<line x1="69.10" y1="595.39" x2="69.10" y2="598.41" stroke="#231f20" stroke-width="1.2"/>
<line x1="67.40" y1="595.39" x2="70.80" y2="595.39" stroke="#231f20" stroke-width="1.2"/>
<rect x="84.68" y="581.03" width="10.20" height="114.27" fill="#e2742a"/>
<rect x="94.88" y="564.81" width="10.20" height="130.49" fill="#5b7db0"/>
<line x1="89.78" y1="580.07" x2="89.78" y2="581.03" stroke="#231f20" stroke-width="1.2"/>
<line x1="88.08" y1="580.07" x2="91.48" y2="580.07" stroke="#231f20" stroke-width="1.2"/>
<line x1="99.98" y1="558.95" x2="99.98" y2="564.81" stroke="#231f20" stroke-width="1.2"/>
<line x1="98.28" y1="558.95" x2="101.68" y2="558.95" stroke="#231f20" stroke-width="1.2"/>
<rect x="115.56" y="603.00" width="10.20" height="92.30" fill="#e2742a"/>
<rect x="125.76" y="569.81" width="10.20" height="125.49" fill="#5b7db0"/>
<line x1="120.66" y1="595.39" x2="120.66" y2="603.00" stroke="#231f20" stroke-width="1.2"/>
<line x1="118.96" y1="595.39" x2="122.36" y2="595.39" stroke="#231f20" stroke-width="1.2"/>
<line x1="130.86" y1="563.18" x2="130.86" y2="569.81" stroke="#231f20" stroke-width="1.2"/>
<line x1="129.16" y1="563.18" x2="132.56" y2="563.18" stroke="#231f20" stroke-width="1.2"/>
<rect x="146.44" y="620.49" width="10.20" height="74.81" fill="#e2742a"/>
<rect x="156.64" y="569.81" width="10.20" height="125.49" fill="#5b7db0"/>
<line x1="151.54" y1="618.68" x2="151.54" y2="620.49" stroke="#231f20" stroke-width="1.2"/>
<line x1="149.84" y1="618.68" x2="153.24" y2="618.68" stroke="#231f20" stroke-width="1.2"/>
<line x1="161.74" y1="564.38" x2="161.74" y2="569.81" stroke="#231f20" stroke-width="1.2"/>
<line x1="160.04" y1="564.38" x2="163.44" y2="564.38" stroke="#231f20" stroke-width="1.2"/>
<rect x="177.32" y="613.25" width="10.20" height="82.05" fill="#e2742a"/>
<rect x="187.52" y="559.56" width="10.20" height="135.74" fill="#5b7db0"/>
<line x1="182.42" y1="608.42" x2="182.42" y2="613.25" stroke="#231f20" stroke-width="1.2"/>
<line x1="180.72" y1="608.42" x2="184.12" y2="608.42" stroke="#231f20" stroke-width="1.2"/>
<line x1="192.62" y1="551.11" x2="192.62" y2="559.56" stroke="#231f20" stroke-width="1.2"/>
<line x1="190.92" y1="551.11" x2="194.32" y2="551.11" stroke="#231f20" stroke-width="1.2"/>
<rect x="208.20" y="596.36" width="10.20" height="98.94" fill="#e2742a"/>
<rect x="218.40" y="564.99" width="10.20" height="130.31" fill="#5b7db0"/>
<line x1="213.30" y1="588.52" x2="213.30" y2="596.36" stroke="#231f20" stroke-width="1.2"/>
<line x1="211.60" y1="588.52" x2="215.00" y2="588.52" stroke="#231f20" stroke-width="1.2"/>
<line x1="223.50" y1="560.76" x2="223.50" y2="564.99" stroke="#231f20" stroke-width="1.2"/>
<line x1="221.80" y1="560.76" x2="225.20" y2="560.76" stroke="#231f20" stroke-width="1.2"/>
<rect x="239.08" y="604.20" width="10.20" height="91.10" fill="#e2742a"/>
<rect x="249.28" y="552.92" width="10.20" height="142.38" fill="#5b7db0"/>
<line x1="244.18" y1="597.57" x2="244.18" y2="604.20" stroke="#231f20" stroke-width="1.2"/>
<line x1="242.48" y1="597.57" x2="245.88" y2="597.57" stroke="#231f20" stroke-width="1.2"/>
<line x1="254.38" y1="546.28" x2="254.38" y2="552.92" stroke="#231f20" stroke-width="1.2"/>
<line x1="252.68" y1="546.28" x2="256.08" y2="546.28" stroke="#231f20" stroke-width="1.2"/>
<line x1="41.80" y1="695.30" x2="270.00" y2="695.30" stroke="#3b3535" stroke-width="1.3"/>
<line x1="59.00" y1="592.00" x2="69.00" y2="592.00" stroke="#3b3535" stroke-width="1.3"/>
<text transform="translate(64.00,589.30) scale(1,1.0)" font-size="7" text-anchor="middle" fill="#231f20">n.s.</text>
<line x1="89.88" y1="553.80" x2="99.88" y2="553.80" stroke="#3b3535" stroke-width="1.3"/>
<polygon points="94.88,546.10 95.67,547.71 97.45,547.97 96.16,549.22 96.47,550.98 94.88,550.15 93.29,550.98 93.60,549.22 92.31,547.97 94.09,547.71" fill="#231f20"/>
<line x1="120.76" y1="560.10" x2="130.76" y2="560.10" stroke="#3b3535" stroke-width="1.3"/>
<polygon points="122.81,552.40 123.60,554.01 125.38,554.27 124.09,555.52 124.40,557.28 122.81,556.45 121.22,557.28 121.53,555.52 120.24,554.27 122.02,554.01" fill="#231f20"/>
<polygon points="128.71,552.40 129.50,554.01 131.28,554.27 129.99,555.52 130.30,557.28 128.71,556.45 127.12,557.28 127.43,555.52 126.14,554.27 127.92,554.01" fill="#231f20"/>
<line x1="151.64" y1="561.40" x2="161.64" y2="561.40" stroke="#3b3535" stroke-width="1.3"/>
<polygon points="153.69,553.70 154.48,555.31 156.26,555.57 154.97,556.82 155.28,558.58 153.69,557.75 152.10,558.58 152.41,556.82 151.12,555.57 152.90,555.31" fill="#231f20"/>
<polygon points="159.59,553.70 160.38,555.31 162.16,555.57 160.87,556.82 161.18,558.58 159.59,557.75 158.00,558.58 158.31,556.82 157.02,555.57 158.80,555.31" fill="#231f20"/>
<line x1="182.52" y1="548.50" x2="192.52" y2="548.50" stroke="#3b3535" stroke-width="1.3"/>
<polygon points="184.57,540.80 185.36,542.41 187.14,542.67 185.85,543.92 186.16,545.68 184.57,544.85 182.98,545.68 183.29,543.92 182.00,542.67 183.78,542.41" fill="#231f20"/>
<polygon points="190.47,540.80 191.26,542.41 193.04,542.67 191.75,543.92 192.06,545.68 190.47,544.85 188.88,545.68 189.19,543.92 187.90,542.67 189.68,542.41" fill="#231f20"/>
<line x1="213.40" y1="556.60" x2="223.40" y2="556.60" stroke="#3b3535" stroke-width="1.3"/>
<polygon points="215.45,548.90 216.24,550.51 218.02,550.77 216.73,552.02 217.04,553.78 215.45,552.95 213.86,553.78 214.17,552.02 212.88,550.77 214.66,550.51" fill="#231f20"/>
<polygon points="221.35,548.90 222.14,550.51 223.92,550.77 222.63,552.02 222.94,553.78 221.35,552.95 219.76,553.78 220.07,552.02 218.78,550.77 220.56,550.51" fill="#231f20"/>
<line x1="244.28" y1="539.90" x2="254.28" y2="539.90" stroke="#3b3535" stroke-width="1.3"/>
<polygon points="246.33,532.20 247.12,533.81 248.90,534.07 247.61,535.32 247.92,537.08 246.33,536.25 244.74,537.08 245.05,535.32 243.76,534.07 245.54,533.81" fill="#231f20"/>
<polygon points="252.23,532.20 253.02,533.81 254.80,534.07 253.51,535.32 253.82,537.08 252.23,536.25 250.64,537.08 250.95,535.32 249.66,534.07 251.44,533.81" fill="#231f20"/>
<rect x="9.30" y="698.90" width="32.50" height="12.90" fill="#fff" stroke="#1a1a1a" stroke-width="1.3"/>
<text transform="translate(38.90,708.70) scale(1,1.0)" font-size="10" text-anchor="end" fill="#231f20">PHR1</text>
<rect x="41.80" y="698.90" width="229.60" height="40.80" fill="none" stroke="#1a1a1a" stroke-width="1.3"/>
<line x1="41.80" y1="711.80" x2="271.40" y2="711.80" stroke="#1a1a1a" stroke-width="1.3"/>
<line x1="41.80" y1="724.80" x2="271.40" y2="724.80" stroke="#1a1a1a" stroke-width="1.3"/>
<line x1="58.20" y1="698.90" x2="58.20" y2="724.80" stroke="#1a1a1a" stroke-width="1.3"/>
<line x1="74.60" y1="698.90" x2="74.60" y2="739.70" stroke="#1a1a1a" stroke-width="1.3"/>
<line x1="91.00" y1="698.90" x2="91.00" y2="724.80" stroke="#1a1a1a" stroke-width="1.3"/>
<line x1="107.40" y1="698.90" x2="107.40" y2="739.70" stroke="#1a1a1a" stroke-width="1.3"/>
<line x1="123.80" y1="698.90" x2="123.80" y2="724.80" stroke="#1a1a1a" stroke-width="1.3"/>
<line x1="140.20" y1="698.90" x2="140.20" y2="739.70" stroke="#1a1a1a" stroke-width="1.3"/>
<line x1="156.60" y1="698.90" x2="156.60" y2="724.80" stroke="#1a1a1a" stroke-width="1.3"/>
<line x1="173.00" y1="698.90" x2="173.00" y2="739.70" stroke="#1a1a1a" stroke-width="1.3"/>
<line x1="189.40" y1="698.90" x2="189.40" y2="724.80" stroke="#1a1a1a" stroke-width="1.3"/>
<line x1="205.80" y1="698.90" x2="205.80" y2="739.70" stroke="#1a1a1a" stroke-width="1.3"/>
<line x1="222.20" y1="698.90" x2="222.20" y2="724.80" stroke="#1a1a1a" stroke-width="1.3"/>
<line x1="238.60" y1="698.90" x2="238.60" y2="739.70" stroke="#1a1a1a" stroke-width="1.3"/>
<line x1="255.00" y1="698.90" x2="255.00" y2="724.80" stroke="#1a1a1a" stroke-width="1.3"/>
<line x1="45.90" y1="705.40" x2="54.10" y2="705.40" stroke="#111" stroke-width="1.45"/>
<line x1="45.90" y1="718.10" x2="54.10" y2="718.10" stroke="#111" stroke-width="1.45"/>
<line x1="50.00" y1="714.10" x2="50.00" y2="722.10" stroke="#111" stroke-width="1.45"/>
<line x1="62.30" y1="705.40" x2="70.50" y2="705.40" stroke="#111" stroke-width="1.45"/>
<line x1="66.40" y1="701.40" x2="66.40" y2="709.40" stroke="#111" stroke-width="1.45"/>
<line x1="62.30" y1="718.10" x2="70.50" y2="718.10" stroke="#111" stroke-width="1.45"/>
<line x1="66.40" y1="714.10" x2="66.40" y2="722.10" stroke="#111" stroke-width="1.45"/>
<line x1="78.70" y1="705.40" x2="86.90" y2="705.40" stroke="#111" stroke-width="1.45"/>
<line x1="78.70" y1="718.10" x2="86.90" y2="718.10" stroke="#111" stroke-width="1.45"/>
<line x1="82.80" y1="714.10" x2="82.80" y2="722.10" stroke="#111" stroke-width="1.45"/>
<line x1="95.10" y1="705.40" x2="103.30" y2="705.40" stroke="#111" stroke-width="1.45"/>
<line x1="99.20" y1="701.40" x2="99.20" y2="709.40" stroke="#111" stroke-width="1.45"/>
<line x1="95.10" y1="718.10" x2="103.30" y2="718.10" stroke="#111" stroke-width="1.45"/>
<line x1="99.20" y1="714.10" x2="99.20" y2="722.10" stroke="#111" stroke-width="1.45"/>
<line x1="111.50" y1="705.40" x2="119.70" y2="705.40" stroke="#111" stroke-width="1.45"/>
<line x1="111.50" y1="718.10" x2="119.70" y2="718.10" stroke="#111" stroke-width="1.45"/>
<line x1="115.60" y1="714.10" x2="115.60" y2="722.10" stroke="#111" stroke-width="1.45"/>
<line x1="127.90" y1="705.40" x2="136.10" y2="705.40" stroke="#111" stroke-width="1.45"/>
<line x1="132.00" y1="701.40" x2="132.00" y2="709.40" stroke="#111" stroke-width="1.45"/>
<line x1="127.90" y1="718.10" x2="136.10" y2="718.10" stroke="#111" stroke-width="1.45"/>
<line x1="132.00" y1="714.10" x2="132.00" y2="722.10" stroke="#111" stroke-width="1.45"/>
<line x1="144.30" y1="705.40" x2="152.50" y2="705.40" stroke="#111" stroke-width="1.45"/>
<line x1="144.30" y1="718.10" x2="152.50" y2="718.10" stroke="#111" stroke-width="1.45"/>
<line x1="148.40" y1="714.10" x2="148.40" y2="722.10" stroke="#111" stroke-width="1.45"/>
<line x1="160.70" y1="705.40" x2="168.90" y2="705.40" stroke="#111" stroke-width="1.45"/>
<line x1="164.80" y1="701.40" x2="164.80" y2="709.40" stroke="#111" stroke-width="1.45"/>
<line x1="160.70" y1="718.10" x2="168.90" y2="718.10" stroke="#111" stroke-width="1.45"/>
<line x1="164.80" y1="714.10" x2="164.80" y2="722.10" stroke="#111" stroke-width="1.45"/>
<line x1="177.10" y1="705.40" x2="185.30" y2="705.40" stroke="#111" stroke-width="1.45"/>
<line x1="177.10" y1="718.10" x2="185.30" y2="718.10" stroke="#111" stroke-width="1.45"/>
<line x1="181.20" y1="714.10" x2="181.20" y2="722.10" stroke="#111" stroke-width="1.45"/>
<line x1="193.50" y1="705.40" x2="201.70" y2="705.40" stroke="#111" stroke-width="1.45"/>
<line x1="197.60" y1="701.40" x2="197.60" y2="709.40" stroke="#111" stroke-width="1.45"/>
<line x1="193.50" y1="718.10" x2="201.70" y2="718.10" stroke="#111" stroke-width="1.45"/>
<line x1="197.60" y1="714.10" x2="197.60" y2="722.10" stroke="#111" stroke-width="1.45"/>
<line x1="209.90" y1="705.40" x2="218.10" y2="705.40" stroke="#111" stroke-width="1.45"/>
<line x1="209.90" y1="718.10" x2="218.10" y2="718.10" stroke="#111" stroke-width="1.45"/>
<line x1="214.00" y1="714.10" x2="214.00" y2="722.10" stroke="#111" stroke-width="1.45"/>
<line x1="226.30" y1="705.40" x2="234.50" y2="705.40" stroke="#111" stroke-width="1.45"/>
<line x1="230.40" y1="701.40" x2="230.40" y2="709.40" stroke="#111" stroke-width="1.45"/>
<line x1="226.30" y1="718.10" x2="234.50" y2="718.10" stroke="#111" stroke-width="1.45"/>
<line x1="230.40" y1="714.10" x2="230.40" y2="722.10" stroke="#111" stroke-width="1.45"/>
<line x1="242.70" y1="705.40" x2="250.90" y2="705.40" stroke="#111" stroke-width="1.45"/>
<line x1="242.70" y1="718.10" x2="250.90" y2="718.10" stroke="#111" stroke-width="1.45"/>
<line x1="246.80" y1="714.10" x2="246.80" y2="722.10" stroke="#111" stroke-width="1.45"/>
<line x1="259.10" y1="705.40" x2="267.30" y2="705.40" stroke="#111" stroke-width="1.45"/>
<line x1="263.20" y1="701.40" x2="263.20" y2="709.40" stroke="#111" stroke-width="1.45"/>
<line x1="259.10" y1="718.10" x2="267.30" y2="718.10" stroke="#111" stroke-width="1.45"/>
<line x1="263.20" y1="714.10" x2="263.20" y2="722.10" stroke="#111" stroke-width="1.45"/>
<text transform="translate(58.20,734.30) scale(1,1.0)" font-size="7.6" text-anchor="middle" font-style="italic" fill="#231f20">RALF24</text>
<text transform="translate(91.00,734.30) scale(1,1.0)" font-size="7.6" text-anchor="middle" font-style="italic" fill="#231f20">RALF1</text>
<text transform="translate(123.80,734.30) scale(1,1.0)" font-size="7.6" text-anchor="middle" font-style="italic" fill="#231f20">RALF4</text>
<text transform="translate(156.60,734.30) scale(1,1.0)" font-size="7.6" text-anchor="middle" font-style="italic" fill="#231f20">RALF22</text>
<text transform="translate(189.40,734.30) scale(1,1.0)" font-size="7.6" text-anchor="middle" font-style="italic" fill="#231f20">RALF23</text>
<text transform="translate(222.20,734.30) scale(1,1.0)" font-size="7.6" text-anchor="middle" font-style="italic" fill="#231f20">RALF33</text>
<text transform="translate(255.00,734.30) scale(1,1.0)" font-size="7.6" text-anchor="middle" font-style="italic" fill="#231f20">RALF34</text>
<text transform="translate(294.50,517.00) scale(1,1.0)" font-size="10" font-weight="bold" fill="#231f20">G</text>
<rect x="325.60" y="508.20" width="230.30" height="187.30" fill="none" stroke="#3b3535" stroke-width="1.2"/>
<line x1="318.80" y1="695.50" x2="325.60" y2="695.50" stroke="#3b3535" stroke-width="1.2"/>
<text transform="translate(314.20,699.00) scale(1,1.0)" font-size="9.8" text-anchor="end" fill="#231f20">0</text>
<line x1="318.80" y1="617.90" x2="325.60" y2="617.90" stroke="#3b3535" stroke-width="1.2"/>
<text transform="translate(314.20,621.40) scale(1,1.0)" font-size="9.8" text-anchor="end" fill="#231f20">5</text>
<line x1="318.80" y1="540.30" x2="325.60" y2="540.30" stroke="#3b3535" stroke-width="1.2"/>
<text transform="translate(314.20,543.80) scale(1,1.0)" font-size="9.8" text-anchor="end" fill="#231f20">10</text>
<text transform="translate(303.6,636.7) rotate(-90) scale(1,1.0)" font-size="9.65" fill="#231f20">Fold enrichment</text>
<rect x="331.60" y="516.10" width="6.30" height="6.10" fill="#a9a9a9"/>
<text transform="translate(341.90,521.90) scale(1,1.0)" font-size="9.8" fill="#231f20">Col-0</text>
<rect x="331.60" y="529.30" width="6.30" height="6.10" fill="#e2742a"/>
<text transform="translate(341.90,535.00) scale(1,1.0)" font-size="10.0" font-style="italic" fill="#231f20">CRY1-Myc</text>
<rect x="331.60" y="542.50" width="6.30" height="6.10" fill="#5b7db0"/>
<text transform="translate(341.90,548.40) scale(1,1.0)" font-size="10.0" font-style="italic" fill="#231f20">PHR1-Myc</text>
<rect x="337.70" y="682.31" width="8.90" height="13.19" fill="#a9a9a9"/>
<rect x="346.60" y="679.36" width="8.90" height="16.14" fill="#e2742a"/>
<rect x="355.50" y="669.27" width="8.90" height="26.23" fill="#5b7db0"/>
<line x1="342.15" y1="680.76" x2="342.15" y2="682.31" stroke="#231f20" stroke-width="1.2"/>
<line x1="340.90" y1="680.76" x2="343.40" y2="680.76" stroke="#231f20" stroke-width="1.2"/>
<line x1="351.05" y1="678.43" x2="351.05" y2="679.36" stroke="#231f20" stroke-width="1.2"/>
<line x1="349.80" y1="678.43" x2="352.30" y2="678.43" stroke="#231f20" stroke-width="1.2"/>
<line x1="359.95" y1="663.68" x2="359.95" y2="669.27" stroke="#231f20" stroke-width="1.2"/>
<line x1="358.70" y1="663.68" x2="361.20" y2="663.68" stroke="#231f20" stroke-width="1.2"/>
<text transform="translate(355.25,709.10) rotate(-28) scale(1,1.0)" font-size="9.8" font-style="italic" text-anchor="end" fill="#231f20">RALF1</text>
<path d="M346.60 672.40 V657.40 H359.95 V663.00" fill="none" stroke="#231f20" stroke-width="1.2"/>
<line x1="341.90" y1="672.40" x2="351.30" y2="672.40" stroke="#231f20" stroke-width="1.2"/>
<text transform="translate(353.27,656.00) scale(1,1.0)" font-size="7" text-anchor="middle" fill="#231f20">n.s.</text>
<rect x="373.15" y="681.84" width="8.90" height="13.66" fill="#a9a9a9"/>
<rect x="382.05" y="673.15" width="8.90" height="22.35" fill="#e2742a"/>
<rect x="390.95" y="591.67" width="8.90" height="103.83" fill="#5b7db0"/>
<line x1="377.60" y1="680.29" x2="377.60" y2="681.84" stroke="#231f20" stroke-width="1.2"/>
<line x1="376.35" y1="680.29" x2="378.85" y2="680.29" stroke="#231f20" stroke-width="1.2"/>
<line x1="386.50" y1="664.30" x2="386.50" y2="673.15" stroke="#231f20" stroke-width="1.2"/>
<line x1="385.25" y1="664.30" x2="387.75" y2="664.30" stroke="#231f20" stroke-width="1.2"/>
<line x1="395.40" y1="584.84" x2="395.40" y2="591.67" stroke="#231f20" stroke-width="1.2"/>
<line x1="394.15" y1="584.84" x2="396.65" y2="584.84" stroke="#231f20" stroke-width="1.2"/>
<text transform="translate(390.70,709.10) rotate(-28) scale(1,1.0)" font-size="9.8" font-style="italic" text-anchor="end" fill="#231f20">RALF4</text>
<path d="M382.05 659.10 V571.90 H395.40 V581.40" fill="none" stroke="#231f20" stroke-width="1.2"/>
<line x1="377.35" y1="659.10" x2="386.75" y2="659.10" stroke="#231f20" stroke-width="1.2"/>
<polygon points="385.77,564.40 386.57,566.01 388.34,566.27 387.06,567.52 387.36,569.28 385.77,568.45 384.19,569.28 384.49,567.52 383.21,566.27 384.98,566.01" fill="#231f20"/>
<polygon points="391.67,564.40 392.47,566.01 394.24,566.27 392.96,567.52 393.26,569.28 391.67,568.45 390.09,569.28 390.39,567.52 389.11,566.27 390.88,566.01" fill="#231f20"/>
<rect x="408.60" y="681.84" width="8.90" height="13.66" fill="#a9a9a9"/>
<rect x="417.50" y="677.65" width="8.90" height="17.85" fill="#e2742a"/>
<rect x="426.40" y="610.14" width="8.90" height="85.36" fill="#5b7db0"/>
<line x1="413.05" y1="680.60" x2="413.05" y2="681.84" stroke="#231f20" stroke-width="1.2"/>
<line x1="411.80" y1="680.60" x2="414.30" y2="680.60" stroke="#231f20" stroke-width="1.2"/>
<line x1="421.95" y1="676.88" x2="421.95" y2="677.65" stroke="#231f20" stroke-width="1.2"/>
<line x1="420.70" y1="676.88" x2="423.20" y2="676.88" stroke="#231f20" stroke-width="1.2"/>
<line x1="430.85" y1="608.59" x2="430.85" y2="610.14" stroke="#231f20" stroke-width="1.2"/>
<line x1="429.60" y1="608.59" x2="432.10" y2="608.59" stroke="#231f20" stroke-width="1.2"/>
<text transform="translate(426.15,709.10) rotate(-28) scale(1,1.0)" font-size="9.8" font-style="italic" text-anchor="end" fill="#231f20">RALF22</text>
<path d="M417.50 672.10 V597.30 H430.85 V605.20" fill="none" stroke="#231f20" stroke-width="1.2"/>
<line x1="412.80" y1="672.10" x2="422.20" y2="672.10" stroke="#231f20" stroke-width="1.2"/>
<polygon points="421.23,589.80 422.02,591.41 423.79,591.67 422.51,592.92 422.81,594.68 421.23,593.85 419.64,594.68 419.94,592.92 418.66,591.67 420.43,591.41" fill="#231f20"/>
<polygon points="427.12,589.80 427.92,591.41 429.69,591.67 428.41,592.92 428.71,594.68 427.12,593.85 425.54,594.68 425.84,592.92 424.56,591.67 426.33,591.41" fill="#231f20"/>
<rect x="444.05" y="681.84" width="8.90" height="13.66" fill="#a9a9a9"/>
<rect x="452.95" y="671.44" width="8.90" height="24.06" fill="#e2742a"/>
<rect x="461.85" y="594.62" width="8.90" height="100.88" fill="#5b7db0"/>
<line x1="448.50" y1="680.29" x2="448.50" y2="681.84" stroke="#231f20" stroke-width="1.2"/>
<line x1="447.25" y1="680.29" x2="449.75" y2="680.29" stroke="#231f20" stroke-width="1.2"/>
<line x1="457.40" y1="670.67" x2="457.40" y2="671.44" stroke="#231f20" stroke-width="1.2"/>
<line x1="456.15" y1="670.67" x2="458.65" y2="670.67" stroke="#231f20" stroke-width="1.2"/>
<line x1="466.30" y1="587.79" x2="466.30" y2="594.62" stroke="#231f20" stroke-width="1.2"/>
<line x1="465.05" y1="587.79" x2="467.55" y2="587.79" stroke="#231f20" stroke-width="1.2"/>
<text transform="translate(461.60,709.10) rotate(-28) scale(1,1.0)" font-size="9.8" font-style="italic" text-anchor="end" fill="#231f20">RALF23</text>
<path d="M452.95 665.00 V579.60 H466.30 V584.80" fill="none" stroke="#231f20" stroke-width="1.2"/>
<line x1="448.25" y1="665.00" x2="457.65" y2="665.00" stroke="#231f20" stroke-width="1.2"/>
<polygon points="456.68,572.10 457.47,573.71 459.24,573.97 457.96,575.22 458.26,576.98 456.68,576.15 455.09,576.98 455.39,575.22 454.11,573.97 455.88,573.71" fill="#231f20"/>
<polygon points="462.57,572.10 463.37,573.71 465.14,573.97 463.86,575.22 464.16,576.98 462.57,576.15 460.99,576.98 461.29,575.22 460.01,573.97 461.78,573.71" fill="#231f20"/>
<rect x="479.50" y="681.84" width="8.90" height="13.66" fill="#a9a9a9"/>
<rect x="488.40" y="669.89" width="8.90" height="25.61" fill="#e2742a"/>
<rect x="497.30" y="621.00" width="8.90" height="74.50" fill="#5b7db0"/>
<line x1="483.95" y1="680.60" x2="483.95" y2="681.84" stroke="#231f20" stroke-width="1.2"/>
<line x1="482.70" y1="680.60" x2="485.20" y2="680.60" stroke="#231f20" stroke-width="1.2"/>
<line x1="492.85" y1="668.96" x2="492.85" y2="669.89" stroke="#231f20" stroke-width="1.2"/>
<line x1="491.60" y1="668.96" x2="494.10" y2="668.96" stroke="#231f20" stroke-width="1.2"/>
<line x1="501.75" y1="613.24" x2="501.75" y2="621.00" stroke="#231f20" stroke-width="1.2"/>
<line x1="500.50" y1="613.24" x2="503.00" y2="613.24" stroke="#231f20" stroke-width="1.2"/>
<text transform="translate(497.05,709.10) rotate(-28) scale(1,1.0)" font-size="9.8" font-style="italic" text-anchor="end" fill="#231f20">RALF33</text>
<path d="M488.40 663.00 V601.80 H501.75 V609.50" fill="none" stroke="#231f20" stroke-width="1.2"/>
<line x1="483.70" y1="663.00" x2="493.10" y2="663.00" stroke="#231f20" stroke-width="1.2"/>
<polygon points="492.12,594.30 492.92,595.91 494.69,596.17 493.41,597.42 493.71,599.18 492.12,598.35 490.54,599.18 490.84,597.42 489.56,596.17 491.33,595.91" fill="#231f20"/>
<polygon points="498.02,594.30 498.82,595.91 500.59,596.17 499.31,597.42 499.61,599.18 498.02,598.35 496.44,599.18 496.74,597.42 495.46,596.17 497.23,595.91" fill="#231f20"/>
<rect x="514.95" y="681.84" width="8.90" height="13.66" fill="#a9a9a9"/>
<rect x="523.85" y="675.63" width="8.90" height="19.87" fill="#e2742a"/>
<rect x="532.75" y="623.02" width="8.90" height="72.48" fill="#5b7db0"/>
<line x1="519.40" y1="680.45" x2="519.40" y2="681.84" stroke="#231f20" stroke-width="1.2"/>
<line x1="518.15" y1="680.45" x2="520.65" y2="680.45" stroke="#231f20" stroke-width="1.2"/>
<line x1="528.30" y1="674.86" x2="528.30" y2="675.63" stroke="#231f20" stroke-width="1.2"/>
<line x1="527.05" y1="674.86" x2="529.55" y2="674.86" stroke="#231f20" stroke-width="1.2"/>
<line x1="537.20" y1="616.04" x2="537.20" y2="623.02" stroke="#231f20" stroke-width="1.2"/>
<line x1="535.95" y1="616.04" x2="538.45" y2="616.04" stroke="#231f20" stroke-width="1.2"/>
<text transform="translate(532.50,709.10) rotate(-28) scale(1,1.0)" font-size="9.8" font-style="italic" text-anchor="end" fill="#231f20">RALF34</text>
<path d="M523.85 672.60 V606.10 H537.20 V615.20" fill="none" stroke="#231f20" stroke-width="1.2"/>
<polygon points="527.58,598.60 528.37,600.21 530.14,600.47 528.86,601.72 529.16,603.48 527.58,602.65 525.99,603.48 526.29,601.72 525.01,600.47 526.78,600.21" fill="#231f20"/>
<polygon points="533.48,598.60 534.27,600.21 536.04,600.47 534.76,601.72 535.06,603.48 533.48,602.65 531.89,603.48 532.19,601.72 530.91,600.47 532.68,600.21" fill="#231f20"/>
<line x1="325.60" y1="695.50" x2="555.90" y2="695.50" stroke="#3b3535" stroke-width="1.3"/>
</svg>
</body></html>
